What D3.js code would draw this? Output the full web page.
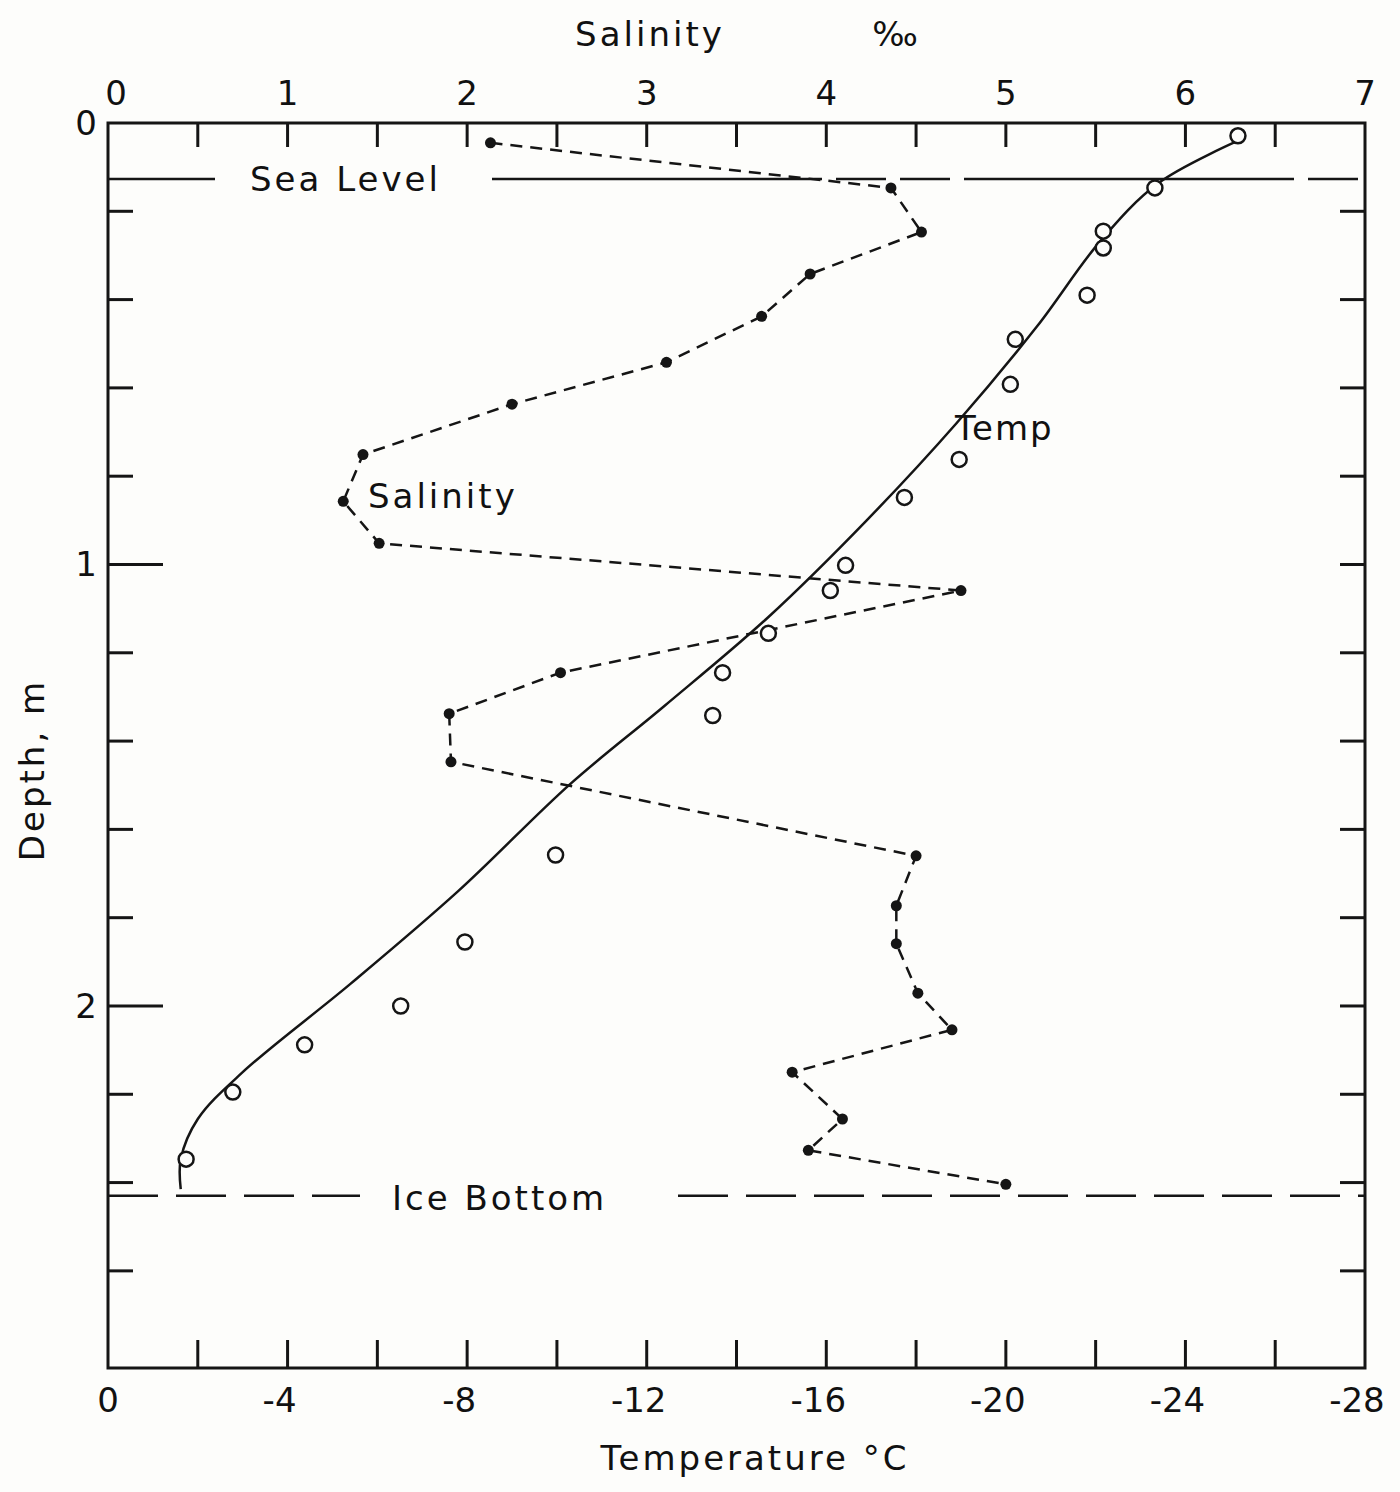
<!DOCTYPE html>
<html>
<head>
<meta charset="utf-8">
<script src="https://cdn.jsdelivr.net/npm/d3@7"></script>
<style>
  body { margin: 0; background: #fdfdfb; }
  text { font-family: "DejaVu Sans", sans-serif; fill: #111; }
</style>
</head>
<body>
<svg id="chart" width="1400" height="1492"></svg>
<script>
// salinity (per mil) vs depth (m)
const salinity = [2.13, 4.36, 4.53, 3.91, 3.64, 3.11, 2.25, 1.42, 1.31, 1.51, 4.75, 2.52, 1.90, 1.91,
  4.50, 4.39, 4.39, 4.51, 4.70, 3.81, 4.09, 3.90, 5.00]
const salDepth = [0.045, 0.147, 0.247, 0.342, 0.438, 0.542, 0.637, 0.751, 0.857, 0.952, 1.059, 1.245, 1.338, 1.447,
  1.660, 1.773, 1.859, 1.971, 2.054, 2.150, 2.256, 2.327, 2.404]

// measured temperatures (deg C) vs depth
const temp = [-25.17, -23.32, -22.17, -22.17, -21.81, -20.21, -20.10, -18.96, -17.74, -16.43, -16.09, -14.71,
  -13.69, -13.47, -9.97, -7.95, -6.52, -4.38, -2.78, -1.74]
const tempDepth = [0.029, 0.147, 0.245, 0.283, 0.390, 0.490, 0.592, 0.762, 0.848, 1.002, 1.059, 1.156,
  1.245, 1.342, 1.658, 1.855, 2.000, 2.088, 2.195, 2.347]

// hand-drawn smooth temperature curve
const curveTemp = [-25.2, -23.4, -22.1, -20.7, -18.9, -16.9, -14.7, -12.4, -10.3, -7.8, -5.4, -3.0, -2.0, -1.62, -1.62]
const curveDepth = [0.039, 0.136, 0.268, 0.460, 0.680, 0.900, 1.120, 1.320, 1.497, 1.740, 1.950, 2.150, 2.256, 2.347, 2.415]

const salTicks = [0, 1, 2, 3, 4, 5, 6, 7]
const tempTicks = [0, -4, -8, -12, -16, -20, -24, -28]
const seaLevel = 0.127
const iceBottom = 2.43

const L = 108, R = 1365, T = 123, B = 1368
const svg = d3.select('#chart')
const x = d3.scaleLinear().domain([0, 7]).range([L, R])
const xt = d3.scaleLinear().domain([0, -28]).range([L, R])
const y = d3.scaleLinear().domain([0, 2.82]).range([T, B])

const ink = '#151515'

// frame
svg.append('rect').attr('x', L).attr('y', T).attr('width', R - L).attr('height', B - T)
    .attr('fill', 'none').attr('stroke', ink).attr('stroke-width', 3)

// top ticks (salinity) every 0.5
d3.range(0.5, 7, 0.5).forEach(v => {
    svg.append('line').attr('x1', x(v)).attr('x2', x(v)).attr('y1', T).attr('y2', T + 24)
        .attr('stroke', ink).attr('stroke-width', 3)
})
salTicks.forEach(v => {
    svg.append('text').attr('x', x(v) + (v === 0 ? 8 : 0)).attr('y', 105).attr('text-anchor', 'middle')
        .attr('font-size', 34).text(v)
})
// bottom ticks (temperature) every 2
d3.range(-2, -28, -2).forEach(v => {
    svg.append('line').attr('x1', xt(v)).attr('x2', xt(v)).attr('y1', B).attr('y2', B - 28)
        .attr('stroke', ink).attr('stroke-width', 3)
})
tempTicks.forEach(v => {
    svg.append('text').attr('x', xt(v) - (v === 0 ? 0 : 8)).attr('y', 1412).attr('text-anchor', 'middle')
        .attr('font-size', 34).text(v === 0 ? '0' : '-' + Math.abs(v))
})
// depth ticks both sides
d3.range(0.2, 2.7, 0.2).forEach(v => {
    const major = Math.abs(v - Math.round(v)) < 0.01
    const len = major ? 55 : 25
    svg.append('line').attr('x1', L).attr('x2', L + len).attr('y1', y(v)).attr('y2', y(v))
        .attr('stroke', ink).attr('stroke-width', 3)
    svg.append('line').attr('x1', R).attr('x2', R - 25).attr('y1', y(v)).attr('y2', y(v))
        .attr('stroke', ink).attr('stroke-width', 3)
})
;[0, 1, 2].forEach(v => {
    svg.append('text').attr('x', 86).attr('y', y(v) + 12).attr('text-anchor', 'middle')
        .attr('font-size', 34).text(v)
})

// axis titles
svg.append('text').attr('x', 650).attr('y', 46).attr('text-anchor', 'middle')
    .attr('font-size', 34).attr('letter-spacing', 3).text('Salinity')
svg.append('text').attr('x', 895).attr('y', 46).attr('text-anchor', 'middle')
    .attr('font-size', 34).text('‰')
svg.append('text').attr('x', 755).attr('y', 1470).attr('text-anchor', 'middle')
    .attr('font-size', 34).attr('letter-spacing', 3).text('Temperature   °C')
svg.append('text').attr('transform', 'translate(44,770) rotate(-90)').attr('text-anchor', 'middle')
    .attr('font-size', 34).attr('letter-spacing', 3).text('Depth,   m')

// sea level / ice bottom lines
svg.append('line').attr('x1', L).attr('x2', 215).attr('y1', y(seaLevel)).attr('y2', y(seaLevel))
    .attr('stroke', ink).attr('stroke-width', 2.5)
svg.append('line').attr('x1', 492).attr('x2', R).attr('y1', y(seaLevel)).attr('y2', y(seaLevel))
    .attr('stroke', ink).attr('stroke-width', 2.5).attr('stroke-dasharray', '330,14,50,14,50,14')
svg.append('text').attr('x', 250).attr('y', y(seaLevel) + 12).attr('font-size', 34)
    .attr('letter-spacing', 3).text('Sea Level')
svg.append('line').attr('x1', L).attr('x2', 360).attr('y1', y(iceBottom)).attr('y2', y(iceBottom))
    .attr('stroke', ink).attr('stroke-width', 2.5).attr('stroke-dasharray', '50,18')
svg.append('line').attr('x1', 678).attr('x2', R).attr('y1', y(iceBottom)).attr('y2', y(iceBottom))
    .attr('stroke', ink).attr('stroke-width', 2.5).attr('stroke-dasharray', '50,18')
svg.append('text').attr('x', 392).attr('y', y(iceBottom) + 14).attr('font-size', 34)
    .attr('letter-spacing', 3).text('Ice Bottom')

// salinity dashed line + dots
const salPts = salinity.map((s, i) => [x(s), y(salDepth[i])])
svg.append('path').attr('d', d3.line()(salPts)).attr('fill', 'none')
    .attr('stroke', ink).attr('stroke-width', 2.5).attr('stroke-dasharray', '12,8')
svg.selectAll('.sal').data(salPts).join('circle').attr('class', 'sal')
    .attr('cx', d => d[0]).attr('cy', d => d[1]).attr('r', 5.5).attr('fill', ink)

// temperature smooth curve
const curvePts = curveTemp.map((t, i) => [xt(t), y(curveDepth[i])])
svg.append('path').attr('d', d3.line().curve(d3.curveCatmullRom.alpha(0.5))(curvePts)).attr('fill', 'none')
    .attr('stroke', ink).attr('stroke-width', 2.5)
svg.selectAll('.tmp').data(temp.map((t, i) => [xt(t), y(tempDepth[i])])).join('circle').attr('class', 'tmp')
    .attr('cx', d => d[0]).attr('cy', d => d[1]).attr('r', 7.5)
    .attr('fill', '#fdfdfb').attr('stroke', ink).attr('stroke-width', 2.5)

// in-plot labels
svg.append('text').attr('x', 368).attr('y', 508).attr('font-size', 34).attr('letter-spacing', 3).text('Salinity')
svg.append('text').attr('x', 955).attr('y', 440).attr('font-size', 34).attr('letter-spacing', 2).text('Temp')
</script>
</body>
</html>
